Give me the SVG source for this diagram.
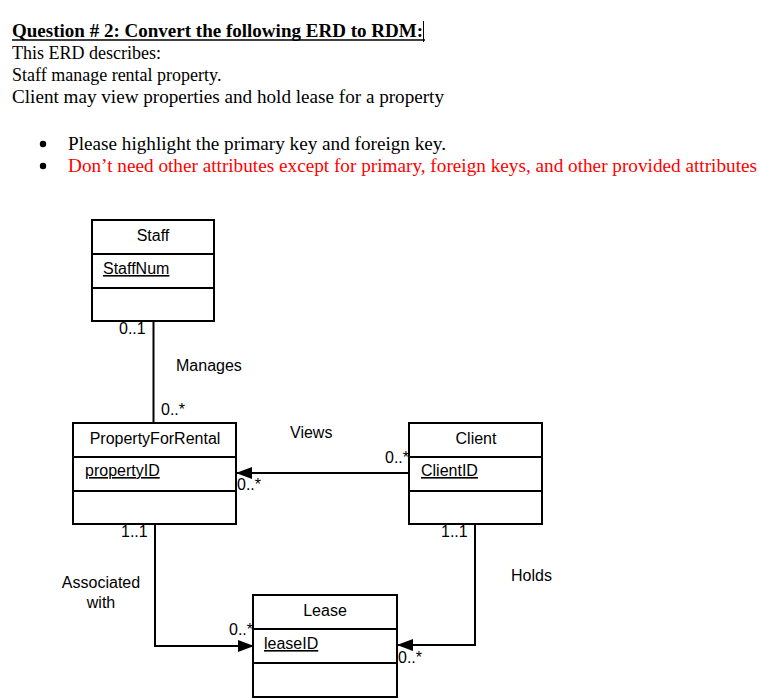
<svg xmlns="http://www.w3.org/2000/svg" width="759" height="699" viewBox="0 0 759 699">
<defs>
<marker id="arr" markerWidth="16" markerHeight="12" refX="15" refY="6" orient="auto" markerUnits="userSpaceOnUse">
<path d="M0,0 L16,6 L0,12 Z" fill="#000"/>
</marker>
</defs>
<style>
.doc{font-family:"Liberation Serif","Times New Roman",serif;font-size:18px;fill:#000}
.t{font-family:"Liberation Sans",Arial,sans-serif;font-size:16px;fill:#000}
.box{fill:#fff;stroke:#000;stroke-width:2}
.ln{fill:none;stroke:#000;stroke-width:2}
.c{stroke:#000;stroke-width:2;fill:none}
.u{text-decoration:underline}
</style>
<rect width="759" height="699" fill="#fff"/>
<g id="header">
<text class="doc" x="12" y="37" font-weight="bold" textLength="411" lengthAdjust="spacingAndGlyphs">Question # 2: Convert the following ERD to RDM:</text>
<line x1="12" y1="40" x2="425" y2="40" stroke="#000" stroke-width="1.3"/>
<line x1="423.5" y1="21" x2="423.5" y2="42" stroke="#000" stroke-width="1"/>
<text class="doc" x="12" y="59">This ERD describes:</text>
<text class="doc" x="12" y="81">Staff manage rental property.</text>
<text class="doc" x="12" y="103" textLength="432" lengthAdjust="spacingAndGlyphs">Client may view properties and hold lease for a property</text>
<circle cx="43" cy="144" r="3.2" fill="#000"/>
<text class="doc" x="68" y="150" textLength="378" lengthAdjust="spacingAndGlyphs">Please highlight the primary key and foreign key.</text>
<circle cx="43" cy="166" r="3.2" fill="#000"/>
<text class="doc" x="68" y="172" style="fill:#ff0000" textLength="689" lengthAdjust="spacingAndGlyphs">Don’t need other attributes except for primary, foreign keys, and other provided attributes</text>
</g>
<g id="connectors">
<line class="c" x1="153.5" y1="321" x2="153.5" y2="423"/>
<line class="c" x1="409" y1="473" x2="237" y2="473" marker-end="url(#arr)"/>
<polyline class="c" points="155,524 155,646 253,646" marker-end="url(#arr)"/>
<polyline class="c" points="475,524 475,645 398,645" marker-end="url(#arr)"/>
<text class="t" x="119" y="334">0..1</text>
<text class="t" x="176" y="371">Manages</text>
<text class="t" x="161" y="415">0..*</text>
<text class="t" x="290" y="438">Views</text>
<text class="t" x="385" y="463">0..*</text>
<text class="t" x="237" y="490">0..*</text>
<text class="t" x="121" y="537">1..1</text>
<text class="t" x="441" y="537">1..1</text>
<text class="t" x="511" y="581">Holds</text>
<text class="t" x="101" y="588" text-anchor="middle">Associated</text>
<text class="t" x="101" y="608" text-anchor="middle">with</text>
<text class="t" x="229" y="635">0..*</text>
<text class="t" x="398" y="663">0..*</text>
</g>
<g id="staff">
<rect class="box" x="92" y="220" width="122" height="101"/>
<line class="ln" x1="92" y1="254" x2="214" y2="254"/>
<line class="ln" x1="92" y1="288" x2="214" y2="288"/>
<text class="t" x="153" y="241" text-anchor="middle">Staff</text>
<text class="t u" x="103" y="274">StaffNum</text>
</g>
<g id="property">
<rect class="box" x="73" y="423" width="163" height="101"/>
<line class="ln" x1="73" y1="457" x2="236" y2="457"/>
<line class="ln" x1="73" y1="491" x2="236" y2="491"/>
<text class="t" x="155" y="444" text-anchor="middle">PropertyForRental</text>
<text class="t u" x="85" y="476">propertyID</text>
</g>
<g id="client">
<rect class="box" x="409" y="423" width="133" height="101"/>
<line class="ln" x1="409" y1="457" x2="542" y2="457"/>
<line class="ln" x1="409" y1="491" x2="542" y2="491"/>
<text class="t" x="476" y="444" text-anchor="middle">Client</text>
<text class="t u" x="421" y="476">ClientID</text>
</g>
<g id="lease">
<rect class="box" x="253" y="595" width="144" height="102"/>
<line class="ln" x1="253" y1="629" x2="397" y2="629"/>
<line class="ln" x1="253" y1="663" x2="397" y2="663"/>
<text class="t" x="325" y="616" text-anchor="middle">Lease</text>
<text class="t u" x="264" y="649">leaseID</text>
</g>
</svg>
